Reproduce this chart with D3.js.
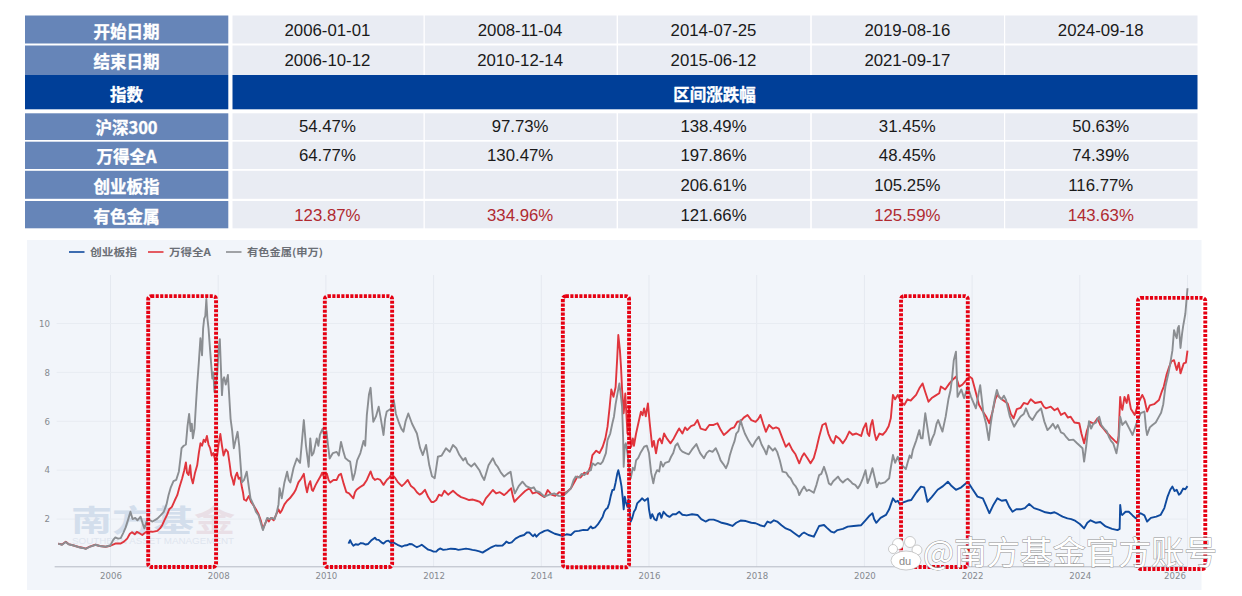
<!DOCTYPE html>
<html lang="zh">
<head>
<meta charset="utf-8">
<script src="https://cdnjs.cloudflare.com/ajax/libs/d3/7.8.5/d3.min.js"></script>
<style>
html,body{margin:0;padding:0;background:#fff;}
svg{display:block;}
</style>
</head>
<body>
<svg id="chart" width="1242" height="596"></svg>
<script>
// Table content
const startDates = ["2006-01-01","2008-11-04","2014-07-25","2019-08-16","2024-09-18"];
const endDates = ["2006-10-12","2010-12-14","2015-06-12","2021-09-17",""];
const csi300 = ["54.47%","97.73%","138.49%","31.45%","50.63%"];
const windA = ["64.77%","130.47%","197.86%","48.45%","74.39%"];
const chinext = ["","","206.61%","105.25%","116.77%"];
const metals = ["123.87%","334.96%","121.66%","125.59%","143.63%"];
const redCells = [true,true,false,true,true];

// Index levels: [years after 2000, level]
const chinextSeries = [[10.42,1.0],[10.45,1.14],[10.48,1.0],[10.51,.91],[10.55,.97],[10.6,.95],[10.65,1.02],[10.7,1.0],[10.74,.96],[10.78,.98],[10.84,1.12],[10.91,1.24],[10.94,1.16],[10.98,1.15],[11.03,1.05],[11.07,1.0],[11.12,1.1],[11.16,1.12],[11.21,1.02],[11.25,1.05],[11.33,.95],[11.41,.87],[11.46,.92],[11.5,.93],[11.55,.98],[11.6,.97],[11.65,.9],[11.69,.85],[11.74,.9],[11.78,.95],[11.84,.85],[11.9,.75],[11.95,.72],[12.0,.67],[12.05,.67],[12.08,.74],[12.12,.8],[12.18,.74],[12.25,.76],[12.32,.79],[12.4,.78],[12.46,.74],[12.52,.76],[12.6,.79],[12.66,.77],[12.72,.74],[12.78,.72],[12.85,.68],[12.91,.63],[12.96,.7],[13.0,.75],[13.05,.82],[13.1,.87],[13.15,.92],[13.19,.91],[13.28,.92],[13.32,1.0],[13.35,1.08],[13.4,1.02],[13.45,1.05],[13.52,1.2],[13.6,1.3],[13.68,1.35],[13.73,1.45],[13.78,1.45],[13.82,1.35],[13.85,1.3],[13.88,1.38],[13.91,1.28],[13.96,1.4],[14.0,1.45],[14.06,1.52],[14.12,1.55],[14.18,1.48],[14.25,1.4],[14.32,1.36],[14.4,1.31],[14.47,1.38],[14.55,1.35],[14.62,1.5],[14.7,1.52],[14.78,1.56],[14.86,1.55],[14.92,1.7],[14.95,1.62],[15.0,1.66],[15.05,1.78],[15.1,1.95],[15.14,2.1],[15.17,2.3],[15.2,2.4],[15.23,2.45],[15.26,2.64],[15.29,2.95],[15.32,3.19],[15.35,3.2],[15.38,3.5],[15.41,3.85],[15.43,4.0],[15.46,3.7],[15.49,3.33],[15.51,2.9],[15.53,2.4],[15.55,2.92],[15.57,2.7],[15.6,2.5],[15.62,2.8],[15.64,2.3],[15.66,1.9],[15.69,2.05],[15.72,2.3],[15.75,2.4],[15.78,2.64],[15.83,2.75],[15.87,2.85],[15.92,2.75],[15.98,2.85],[16.0,2.4],[16.03,2.03],[16.06,2.2],[16.1,2.0],[16.14,1.95],[16.17,2.2],[16.2,2.25],[16.23,2.05],[16.27,2.3],[16.33,2.15],[16.38,2.09],[16.44,2.2],[16.5,2.2],[16.56,2.3],[16.62,2.18],[16.7,2.15],[16.8,2.2],[16.9,2.17],[16.97,2.0],[17.05,1.9],[17.12,1.98],[17.2,1.98],[17.28,1.92],[17.35,1.85],[17.45,1.8],[17.55,1.72],[17.62,1.85],[17.7,1.94],[17.8,1.92],[17.9,1.85],[17.98,1.83],[18.06,1.75],[18.14,1.7],[18.2,1.9],[18.26,1.85],[18.32,1.95],[18.38,1.9],[18.46,1.75],[18.54,1.62],[18.62,1.55],[18.7,1.42],[18.79,1.28],[18.84,1.4],[18.88,1.45],[18.96,1.35],[19.06,1.28],[19.11,1.5],[19.16,1.72],[19.25,1.76],[19.3,1.65],[19.38,1.49],[19.44,1.45],[19.5,1.55],[19.6,1.6],[19.69,1.69],[19.8,1.72],[19.94,1.75],[20.02,1.95],[20.1,2.15],[20.15,2.24],[20.18,2.0],[20.22,1.85],[20.3,2.05],[20.4,2.17],[20.46,2.4],[20.53,2.85],[20.58,2.7],[20.62,2.75],[20.66,2.6],[20.71,2.67],[20.8,2.75],[20.87,2.78],[20.95,3.05],[21.05,3.33],[21.11,3.3],[21.17,2.71],[21.25,2.9],[21.36,3.2],[21.46,3.35],[21.55,3.53],[21.62,3.35],[21.7,3.2],[21.8,3.3],[21.92,3.53],[22.0,3.25],[22.1,2.92],[22.2,2.85],[22.26,2.55],[22.32,2.24],[22.4,2.6],[22.47,2.85],[22.55,2.75],[22.63,2.78],[22.69,2.5],[22.75,2.3],[22.82,2.4],[22.9,2.4],[22.98,2.45],[23.06,2.62],[23.15,2.45],[23.25,2.38],[23.36,2.28],[23.46,2.24],[23.53,2.28],[23.6,2.2],[23.68,2.1],[23.77,2.03],[23.84,2.0],[23.9,1.95],[24.0,1.8],[24.08,1.62],[24.14,1.85],[24.2,1.95],[24.3,1.85],[24.38,1.88],[24.48,1.7],[24.6,1.6],[24.7,1.55],[24.74,1.6],[24.75,2.58],[24.77,2.2],[24.79,2.17],[24.85,2.3],[24.91,2.3],[24.98,2.15],[25.04,2.03],[25.1,2.2],[25.13,2.24],[25.2,2.15],[25.25,1.9],[25.32,2.05],[25.42,2.1],[25.5,2.17],[25.57,2.45],[25.63,2.92],[25.68,3.2],[25.72,3.33],[25.76,3.15],[25.8,3.2],[25.84,3.0],[25.87,3.05],[25.92,3.25],[25.96,3.22],[26.0,3.35]];

const windSeries = [[5.03,1.0],[5.1,.96],[5.17,1.07],[5.22,.98],[5.3,.93],[5.41,.86],[5.48,.83],[5.54,.79],[5.6,.86],[5.72,.95],[5.8,.9],[5.91,.87],[6.0,.91],[6.09,1.0],[6.19,1.0],[6.25,1.08],[6.31,1.2],[6.36,1.4],[6.4,1.46],[6.45,1.38],[6.49,1.48],[6.54,1.42],[6.59,1.35],[6.63,1.42],[6.68,1.5],[6.78,1.48],[6.87,1.52],[6.92,1.62],[6.96,1.75],[7.0,1.95],[7.05,2.17],[7.09,2.4],[7.14,2.5],[7.19,2.75],[7.24,2.98],[7.28,3.3],[7.33,3.66],[7.37,4.0],[7.4,4.32],[7.42,3.9],[7.45,3.8],[7.48,4.2],[7.5,3.7],[7.53,3.46],[7.57,3.9],[7.61,4.2],[7.64,4.7],[7.67,5.1],[7.7,5.0],[7.73,5.25],[7.76,5.15],[7.79,5.4],[7.82,5.05],[7.85,4.9],[7.88,4.6],[7.91,4.7],[7.95,4.37],[7.98,4.6],[8.01,5.1],[8.04,5.48],[8.07,5.0],[8.1,4.6],[8.14,4.85],[8.18,4.75],[8.21,4.3],[8.24,3.8],[8.27,3.6],[8.29,3.4],[8.32,3.75],[8.35,3.9],[8.38,3.65],[8.41,3.7],[8.44,3.3],[8.46,3.1],[8.48,2.8],[8.52,2.75],[8.57,2.95],[8.61,2.7],[8.66,2.55],[8.7,2.4],[8.75,2.2],[8.79,1.95],[8.83,1.6],[8.87,1.8],[8.91,2.0],[8.94,1.9],[8.98,2.05],[9.03,1.95],[9.07,2.15],[9.12,2.4],[9.15,2.25],[9.18,2.35],[9.23,2.6],[9.28,2.75],[9.33,2.85],[9.4,3.05],[9.44,3.2],[9.49,3.5],[9.54,3.65],[9.59,3.85],[9.62,3.4],[9.65,3.1],[9.68,3.4],[9.71,3.55],[9.74,3.2],[9.76,3.15],[9.81,3.4],[9.86,3.6],[9.9,3.75],[9.93,3.9],[9.97,3.7],[10.02,3.85],[10.05,3.6],[10.08,3.5],[10.14,3.6],[10.2,3.6],[10.24,3.8],[10.28,3.85],[10.33,3.45],[10.38,3.1],[10.43,3.05],[10.47,2.95],[10.51,2.85],[10.54,3.1],[10.57,3.2],[10.63,3.3],[10.7,3.4],[10.76,3.6],[10.83,3.95],[10.87,3.7],[10.91,3.6],[10.96,3.65],[11.01,3.6],[11.07,3.4],[11.13,3.6],[11.18,3.7],[11.22,3.85],[11.28,3.7],[11.34,3.5],[11.41,3.35],[11.46,3.45],[11.52,3.6],[11.58,3.35],[11.64,3.25],[11.69,3.1],[11.74,3.0],[11.78,3.05],[11.84,3.2],[11.9,2.9],[11.96,2.7],[12.0,2.7],[12.05,2.78],[12.1,3.0],[12.15,2.95],[12.2,3.16],[12.27,3.0],[12.36,3.16],[12.44,3.0],[12.51,2.9],[12.58,2.85],[12.66,2.78],[12.73,2.8],[12.8,2.75],[12.86,2.7],[12.91,2.58],[12.97,2.85],[13.03,3.0],[13.1,3.19],[13.16,3.05],[13.23,3.1],[13.31,2.98],[13.37,3.1],[13.44,3.26],[13.47,2.95],[13.5,2.71],[13.56,2.85],[13.63,3.0],[13.7,3.15],[13.78,3.26],[13.84,3.05],[13.92,3.1],[14.0,2.98],[14.06,2.9],[14.12,3.19],[14.19,3.0],[14.26,2.95],[14.33,3.1],[14.4,3.05],[14.47,3.1],[14.55,3.26],[14.61,3.5],[14.67,3.74],[14.73,3.7],[14.8,3.9],[14.86,3.85],[14.91,4.15],[14.95,4.62],[15.02,4.8],[15.08,4.7],[15.14,4.96],[15.19,5.3],[15.23,5.78],[15.27,6.6],[15.3,7.3],[15.34,7.0],[15.38,7.4],[15.41,8.6],[15.43,9.53],[15.46,8.9],[15.48,8.23],[15.5,7.3],[15.53,6.33],[15.56,7.14],[15.58,6.3],[15.6,5.5],[15.63,6.6],[15.65,5.4],[15.67,4.96],[15.7,5.3],[15.72,5.0],[15.76,5.5],[15.8,5.9],[15.85,6.39],[15.88,6.25],[15.91,6.53],[15.94,6.2],[15.98,6.73],[16.01,6.0],[16.06,4.96],[16.09,5.2],[16.13,4.69],[16.17,5.2],[16.2,5.3],[16.24,5.1],[16.28,5.5],[16.33,5.3],[16.4,5.1],[16.46,5.3],[16.52,5.55],[16.56,5.71],[16.62,5.5],[16.67,5.75],[16.71,5.64],[16.78,5.8],[16.84,5.85],[16.9,6.05],[16.96,5.7],[17.05,5.64],[17.12,5.85],[17.2,5.85],[17.27,5.92],[17.33,5.65],[17.39,5.44],[17.45,5.55],[17.52,5.7],[17.58,5.75],[17.64,5.98],[17.7,6.0],[17.76,6.15],[17.83,6.26],[17.9,6.05],[17.98,5.98],[18.03,6.1],[18.07,6.26],[18.12,5.9],[18.17,5.57],[18.23,5.85],[18.3,5.7],[18.36,5.75],[18.41,5.7],[18.47,5.35],[18.54,4.96],[18.6,5.1],[18.66,4.83],[18.72,4.65],[18.79,4.28],[18.84,4.55],[18.88,4.69],[18.94,4.5],[19.0,4.28],[19.06,4.5],[19.11,4.9],[19.16,5.37],[19.22,5.85],[19.28,5.92],[19.33,5.5],[19.38,5.23],[19.43,5.1],[19.47,5.4],[19.53,5.3],[19.6,5.1],[19.66,5.3],[19.72,5.58],[19.78,5.45],[19.85,5.5],[19.94,5.4],[19.98,5.7],[20.03,5.92],[20.06,5.5],[20.09,5.4],[20.12,5.85],[20.15,6.05],[20.19,5.5],[20.22,5.23],[20.28,5.5],[20.34,5.45],[20.4,5.6],[20.45,5.8],[20.49,6.12],[20.53,7.08],[20.57,6.9],[20.62,7.08],[20.68,6.8],[20.74,6.67],[20.8,6.9],[20.86,6.85],[20.96,7.08],[21.02,7.35],[21.08,7.55],[21.13,7.2],[21.19,6.8],[21.25,6.95],[21.32,7.05],[21.39,7.15],[21.42,7.42],[21.5,7.3],[21.58,7.55],[21.64,7.7],[21.7,7.83],[21.76,7.42],[21.82,7.5],[21.88,7.65],[21.95,7.83],[22.0,7.75],[22.04,7.42],[22.09,7.0],[22.13,6.67],[22.2,6.4],[22.26,6.2],[22.32,5.92],[22.38,6.4],[22.43,6.9],[22.47,7.08],[22.55,6.9],[22.66,6.73],[22.72,6.3],[22.77,6.12],[22.83,6.5],[22.9,6.55],[22.96,6.75],[23.03,6.7],[23.09,6.9],[23.17,6.75],[23.28,6.8],[23.33,6.6],[23.37,6.53],[23.46,6.6],[23.53,6.45],[23.59,6.53],[23.65,6.26],[23.72,6.35],[23.78,6.15],[23.83,6.19],[23.9,5.95],[23.99,5.92],[24.03,5.5],[24.08,5.1],[24.13,5.6],[24.19,5.98],[24.26,5.9],[24.33,6.12],[24.38,5.85],[24.44,5.7],[24.51,5.51],[24.58,5.35],[24.65,5.2],[24.7,5.1],[24.72,5.4],[24.75,7.0],[24.77,6.6],[24.79,6.47],[24.83,7.0],[24.87,6.75],[24.9,7.08],[24.95,6.5],[25.02,6.26],[25.08,6.7],[25.16,7.08],[25.2,6.9],[25.25,6.4],[25.3,6.65],[25.38,6.7],[25.47,6.87],[25.52,7.2],[25.56,7.42],[25.61,7.9],[25.66,8.23],[25.7,8.45],[25.75,8.5],[25.8,8.1],[25.84,8.4],[25.87,7.96],[25.93,8.37],[25.97,8.4],[26.0,8.89]];

const metalsSeries = [[5.03,1.0],[5.1,.95],[5.17,1.06],[5.22,.97],[5.3,.93],[5.41,.85],[5.48,.82],[5.54,.78],[5.6,.85],[5.72,.95],[5.8,.9],[5.91,.87],[6.0,.93],[6.05,1.15],[6.09,1.25],[6.14,1.2],[6.19,1.22],[6.24,1.45],[6.28,1.65],[6.33,2.0],[6.37,2.3],[6.41,2.0],[6.46,2.05],[6.5,1.95],[6.56,2.1],[6.6,1.8],[6.63,1.62],[6.67,1.9],[6.71,1.98],[6.78,1.9],[6.87,2.02],[6.93,2.15],[6.99,2.3],[7.04,2.6],[7.08,3.0],[7.12,3.3],[7.17,3.55],[7.22,3.6],[7.27,3.95],[7.3,4.5],[7.32,4.9],[7.36,5.0],[7.4,5.05],[7.43,5.8],[7.46,6.3],[7.49,5.6],[7.51,5.9],[7.53,5.3],[7.56,5.7],[7.59,6.8],[7.61,7.5],[7.64,8.4],[7.67,9.4],[7.7,8.7],[7.72,9.8],[7.74,10.2],[7.76,10.3],[7.78,11.0],[7.8,10.2],[7.82,9.8],[7.85,8.9],[7.89,7.75],[7.91,8.0],[7.93,7.2],[7.96,7.6],[7.98,7.9],[8.01,9.0],[8.03,9.36],[8.05,8.2],[8.07,7.07],[8.09,7.7],[8.11,7.8],[8.14,7.5],[8.18,7.9],[8.2,7.2],[8.23,6.1],[8.26,5.6],[8.29,4.9],[8.32,5.2],[8.36,5.57],[8.39,5.0],[8.44,3.5],[8.48,3.6],[8.53,3.94],[8.57,3.3],[8.6,2.85],[8.63,2.7],[8.66,2.55],[8.7,2.3],[8.75,2.15],[8.79,1.85],[8.83,1.55],[8.87,1.8],[8.91,2.05],[8.96,2.0],[9.0,2.05],[9.05,2.0],[9.09,2.3],[9.12,2.6],[9.14,3.26],[9.18,2.85],[9.23,3.5],[9.28,3.94],[9.31,3.6],[9.34,3.5],[9.4,4.1],[9.46,4.48],[9.52,4.3],[9.56,5.3],[9.59,6.05],[9.63,5.0],[9.68,4.14],[9.71,5.3],[9.74,4.6],[9.77,4.7],[9.83,5.3],[9.86,5.0],[9.89,5.45],[9.94,5.7],[9.98,5.3],[10.01,5.6],[10.04,5.0],[10.07,4.48],[10.13,4.7],[10.2,4.75],[10.24,4.6],[10.28,5.16],[10.32,4.8],[10.36,4.5],[10.41,4.4],[10.45,4.35],[10.5,3.6],[10.54,3.9],[10.58,4.4],[10.64,4.7],[10.7,5.2],[10.73,5.0],[10.76,6.25],[10.8,7.1],[10.83,7.37],[10.86,6.5],[10.88,5.98],[10.93,6.2],[10.98,6.6],[11.02,6.1],[11.07,5.44],[11.1,6.1],[11.13,6.4],[11.2,6.5],[11.26,6.87],[11.3,6.3],[11.35,5.98],[11.4,5.7],[11.44,5.57],[11.48,6.0],[11.53,6.32],[11.6,5.9],[11.69,5.5],[11.75,4.9],[11.8,4.62],[11.86,5.03],[11.92,4.2],[11.97,3.75],[12.02,3.67],[12.08,4.55],[12.15,4.6],[12.23,4.9],[12.3,4.75],[12.36,5.03],[12.42,4.9],[12.48,4.62],[12.55,4.4],[12.59,4.5],[12.63,4.28],[12.7,4.15],[12.76,4.28],[12.85,4.0],[12.9,3.75],[12.94,3.6],[13.02,4.2],[13.1,4.49],[13.15,4.25],[13.19,4.14],[13.25,3.9],[13.31,3.74],[13.37,3.85],[13.43,3.94],[13.47,3.4],[13.51,3.05],[13.58,3.35],[13.65,3.53],[13.72,3.35],[13.81,3.26],[13.86,3.3],[13.9,3.15],[13.97,3.1],[14.06,2.92],[14.15,3.0],[14.24,3.05],[14.32,2.95],[14.4,2.94],[14.48,3.1],[14.55,3.26],[14.6,3.6],[14.64,3.74],[14.7,3.7],[14.75,3.85],[14.8,3.8],[14.86,3.94],[14.92,4.0],[14.95,4.28],[15.0,4.2],[15.05,4.3],[15.1,4.25],[15.14,4.35],[15.2,4.7],[15.23,5.23],[15.28,5.5],[15.32,5.92],[15.35,6.2],[15.38,6.7],[15.42,7.2],[15.45,7.55],[15.48,7.0],[15.5,6.6],[15.52,5.3],[15.53,4.14],[15.55,5.0],[15.57,5.1],[15.6,4.7],[15.63,4.1],[15.66,3.67],[15.7,4.1],[15.73,4.0],[15.76,4.4],[15.8,4.5],[15.84,4.7],[15.88,4.85],[15.91,4.96],[15.96,5.0],[16.0,4.7],[16.04,3.9],[16.08,3.46],[16.11,3.8],[16.15,4.0],[16.19,3.95],[16.22,4.35],[16.26,4.15],[16.3,4.3],[16.37,4.35],[16.41,4.55],[16.45,4.7],[16.49,5.0],[16.53,5.1],[16.58,4.85],[16.62,4.76],[16.68,4.7],[16.74,4.65],[16.8,4.85],[16.88,5.07],[16.92,4.85],[16.95,4.7],[17.02,4.49],[17.07,4.7],[17.12,4.8],[17.18,4.75],[17.24,4.9],[17.29,4.65],[17.33,4.4],[17.38,4.25],[17.43,4.08],[17.47,4.3],[17.5,4.6],[17.55,4.96],[17.59,5.2],[17.62,5.5],[17.66,5.6],[17.7,6.05],[17.74,5.75],[17.78,5.5],[17.85,5.2],[17.92,4.96],[17.98,5.2],[18.04,5.37],[18.09,5.05],[18.14,4.85],[18.18,4.65],[18.22,5.0],[18.26,4.9],[18.3,4.8],[18.34,4.9],[18.38,4.75],[18.43,4.4],[18.48,3.94],[18.55,3.9],[18.59,3.75],[18.63,3.67],[18.68,3.45],[18.72,3.35],[18.76,3.2],[18.79,2.98],[18.84,3.2],[18.88,3.33],[18.93,3.15],[18.97,3.2],[19.06,3.08],[19.11,3.4],[19.16,3.8],[19.2,3.85],[19.25,4.14],[19.3,3.8],[19.34,3.46],[19.38,3.4],[19.42,3.55],[19.47,3.65],[19.51,3.74],[19.55,3.6],[19.6,3.5],[19.65,3.6],[19.69,3.65],[19.74,3.55],[19.78,3.45],[19.83,3.4],[19.88,3.26],[19.92,3.4],[19.96,3.6],[20.02,4.0],[20.06,3.47],[20.1,3.7],[20.15,4.08],[20.19,3.7],[20.23,3.3],[20.27,3.5],[20.3,3.45],[20.38,3.5],[20.46,3.67],[20.49,4.1],[20.53,4.62],[20.57,4.3],[20.62,4.55],[20.66,4.3],[20.7,4.2],[20.77,4.05],[20.84,4.6],[20.87,4.5],[20.9,4.83],[20.96,5.2],[21.02,5.64],[21.05,5.3],[21.08,5.3],[21.13,6.33],[21.18,5.6],[21.22,5.03],[21.26,5.3],[21.3,5.5],[21.34,5.9],[21.37,6.05],[21.41,5.8],[21.45,5.58],[21.51,6.2],[21.56,6.9],[21.6,7.28],[21.63,7.8],[21.66,8.5],[21.7,8.85],[21.73,7.0],[21.8,7.3],[21.85,6.95],[21.92,7.4],[21.98,7.0],[22.07,6.53],[22.11,7.0],[22.15,7.48],[22.21,6.33],[22.26,5.9],[22.31,5.23],[22.34,5.8],[22.38,6.4],[22.42,6.9],[22.46,7.28],[22.5,7.0],[22.55,6.9],[22.59,7.05],[22.63,6.87],[22.7,6.2],[22.78,5.78],[22.84,6.0],[22.9,6.2],[22.96,6.3],[23.0,6.53],[23.06,6.2],[23.12,6.05],[23.2,6.35],[23.28,6.53],[23.34,6.0],[23.4,5.64],[23.45,5.75],[23.5,5.9],[23.55,5.7],[23.59,5.85],[23.65,5.55],[23.7,5.5],[23.75,5.35],[23.8,5.23],[23.88,5.25],[23.95,5.1],[24.05,4.9],[24.08,4.35],[24.12,5.0],[24.17,6.0],[24.21,5.7],[24.25,5.9],[24.3,5.95],[24.36,6.19],[24.4,5.85],[24.45,5.7],[24.5,5.6],[24.54,5.37],[24.58,5.2],[24.62,5.1],[24.68,4.69],[24.72,5.2],[24.75,6.19],[24.79,5.85],[24.85,6.0],[24.92,5.7],[24.98,5.44],[25.05,5.9],[25.13,6.33],[25.2,6.4],[25.23,5.7],[25.25,5.44],[25.3,5.75],[25.35,5.85],[25.41,5.95],[25.47,6.19],[25.51,6.35],[25.55,6.7],[25.59,7.42],[25.65,8.0],[25.69,8.5],[25.72,8.9],[25.75,9.73],[25.78,9.5],[25.8,9.4],[25.82,9.8],[25.84,9.9],[25.87,9.0],[25.9,9.6],[25.92,9.9],[25.96,10.4],[26.0,11.44]];

// Rally windows, in calendar years
const windowStart = [2006.70,2009.98,2014.40,2020.68,2025.08];
const windowEnd = [2007.96,2011.23,2015.63,2021.92,2026.33];

const yTicks = [2,4,6,8,10];
const xTicks = d3.range(2006,2027,2);

const svg = d3.select("#chart");
const cjk = "'Noto Sans CJK SC','Noto Sans',sans-serif";
const latin = "'Liberation Sans',Arial,sans-serif";

/* ---------- table ---------- */
const colLeft = [232.5,424.8,618,811.8,1005.2];
const colRight = [423.5,616.6,810.2,1004,1197.5];
const bodyRows = [
  {label:"开始日期",cells:startDates,top:15.5,bottom:43.5,ty:30,ly:31},
  {label:"结束日期",cells:endDates,top:45.5,bottom:75,ty:60,ly:61},
  {label:"沪深300",cells:csi300,top:113.3,bottom:140,ty:126,ly:126.5},
  {label:"万得全A",cells:windA,top:141.7,bottom:169,ty:155.5,ly:155.5},
  {label:"创业板指",cells:chinext,top:170.8,bottom:198.8,ty:185,ly:186},
  {label:"有色金属",cells:metals,top:201,bottom:228.3,ty:215,ly:216,red:true}
];
const table = svg.append("g");
const labelFill = "#6685b8", headFill = "#003f98", cellFill = "#e9ecf3";

function boldLabel(x0,y0,t){
  table.append("text").attr("x",x0).attr("y",y0).attr("text-anchor","middle").attr("dominant-baseline","central")
    .attr("font-family",cjk).attr("font-weight",700).attr("font-size",16.5).attr("fill","#fff")
    .attr("stroke","#fff").attr("stroke-width",.35).text(t);
}
bodyRows.forEach(r=>{
  table.append("rect").attr("x",25).attr("y",r.top).attr("width",203.3).attr("height",r.bottom-r.top).attr("fill",labelFill);
  boldLabel(126.5,r.ly,r.label);
  r.cells.forEach((t,i)=>{
    table.append("rect").attr("x",colLeft[i]).attr("y",r.top).attr("width",colRight[i]-colLeft[i]).attr("height",r.bottom-r.top).attr("fill",cellFill);
    table.append("text").attr("x",(colLeft[i]+colRight[i])/2-.6).attr("y",r.ty).attr("text-anchor","middle").attr("dominant-baseline","central")
      .attr("font-family",latin).attr("font-size",16.8)
      .attr("fill",r.red && redCells[i] ? "#b02a30" : "#1a1a1a").text(t);
  });
});
table.append("rect").attr("x",25).attr("y",75).attr("width",203.3).attr("height",34.3).attr("fill",headFill);
table.append("rect").attr("x",232.5).attr("y",75).attr("width",965).attr("height",34.3).attr("fill",headFill);
boldLabel(126.5,94,"指数");
boldLabel(714.5,94,"区间涨跌幅");

/* ---------- chart panel ---------- */
svg.append("rect").attr("x",27).attr("y",240).attr("width",1174.5).attr("height",350).attr("fill","#f2f5fa");

const x = d3.scaleLinear().domain([2006,2026]).range([110.5,1187.5]);
const y = d3.scaleLinear().domain([0,10]).range([568,323.5]);
const axisY = 566.8;

const grid = svg.append("g");
grid.selectAll("line.v").data(xTicks).join("line").attr("class","v")
  .attr("x1",d=>x(d)).attr("x2",d=>x(d)).attr("y1",275).attr("y2",axisY)
  .attr("stroke","#e5e9f0").attr("stroke-width",1);
grid.selectAll("line.h").data(yTicks).join("line").attr("class","h")
  .attr("x1",x(2005)).attr("x2",x(2026)).attr("y1",d=>y(d)).attr("y2",d=>y(d))
  .attr("stroke","#e8ecf2").attr("stroke-width",1);

/* company mark sitting beneath the lines */
const mark = svg.append("g").attr("font-family",cjk).attr("font-weight",700).attr("font-size",30);
[["南",0,"#d3deec"],["方",1,"#d3deec"],["基",2,"#d3deec"],["金",3,"#e9dfe6"]].forEach(([c,i,col])=>{
  mark.append("text").attr("transform",`translate(${71+i*41},530.5) scale(1.37,1)`).attr("fill",col).text(c);
});
svg.append("text").attr("x",72).attr("y",544).attr("font-family",latin).attr("font-size",9.5)
  .attr("textLength",162).attr("lengthAdjust","spacingAndGlyphs")
  .attr("fill","#dfe5ef").text("SOUTHERN ASSET MANAGEMENT");

/* axes */
const axisFont = "'DejaVu Sans',sans-serif";
const xAxis = svg.append("g").attr("transform",`translate(0,${axisY})`)
  .call(d3.axisBottom(x).tickValues(xTicks).tickSize(0).tickPadding(6).tickFormat(d3.format("d")));
xAxis.select(".domain").attr("d",`M${x(2005)-2},0H${x(2026)}`).attr("stroke","#b5bac3").attr("stroke-width",1);
xAxis.selectAll("text").attr("font-family",axisFont).attr("font-size",8.6).attr("fill","#85898f")
  .attr("dx",d=>d===2026?-13:0);

const yAxis = svg.append("g").attr("transform","translate(50,0)")
  .call(d3.axisLeft(y).tickValues(yTicks).tickSize(0).tickPadding(0).tickFormat(d3.format("d")));
yAxis.select(".domain").remove();
yAxis.selectAll("text").attr("font-family",axisFont).attr("font-size",8.6).attr("fill","#85898f");

/* index lines */
const line = d3.line().x(d=>x(2000+d[0])).y(d=>y(d[1]));
const seriesList = [
  {name:"创业板指",data:chinextSeries,color:"#0f4a9e"},
  {name:"万得全A",data:windSeries,color:"#e0353d"},
  {name:"有色金属(申万)",data:metalsSeries,color:"#8b8e92"}
];
svg.selectAll("path.series").data(seriesList).join("path").attr("class","series")
  .attr("d",d=>line(d.data)).attr("fill","none").attr("stroke",d=>d.color)
  .attr("stroke-width",1.9).attr("stroke-linejoin","round");

/* legend */
const legendLeft = [69,148,226], legendTextW = [47,42,76];
seriesList.forEach((s,i)=>{
  svg.append("line").attr("x1",legendLeft[i]).attr("x2",legendLeft[i]+15.5).attr("y1",252).attr("y2",252)
    .attr("stroke",s.color).attr("stroke-width",1.6);
  svg.append("text").attr("x",legendLeft[i]+21).attr("y",251).attr("dominant-baseline","central")
    .attr("font-family",cjk).attr("font-weight",700).attr("font-size",10)
    .attr("textLength",legendTextW[i]).attr("lengthAdjust","spacingAndGlyphs")
    .attr("fill","#6b6f76").text(s.name);
});

/* dotted rally boxes */
const boxTop = [11.12,11.12,11.12,11.12,11.05], boxBottom = [0.04,0.04,0.03,0.04,-0.04];
svg.selectAll("rect.window").data(windowStart).join("rect").attr("class","window")
  .attr("x",d=>x(d)).attr("width",(d,i)=>x(windowEnd[i])-x(d))
  .attr("y",(d,i)=>y(boxTop[i])).attr("height",(d,i)=>y(boxBottom[i])-y(boxTop[i]))
  .attr("rx",3).attr("fill","none").attr("stroke","#e60012").attr("stroke-width",3.9)
  .attr("stroke-dasharray","3.1 1.4");

/* account stamp at the lower right */
const stamp = svg.append("g");
[[898,544,5.5],[910,542,5.5],[917,550,5],[893,549,4.5]].forEach(([cx,cy,r])=>{
  stamp.append("circle").attr("cx",cx).attr("cy",cy).attr("r",r).attr("fill","#fff").attr("stroke","#b5b5b5").attr("stroke-width",.7);
});
stamp.append("ellipse").attr("cx",906).attr("cy",560.5).attr("rx",15).attr("ry",9.5).attr("fill","#fff").attr("stroke","#b5b5b5").attr("stroke-width",.7);
stamp.append("text").attr("x",905).attr("y",564.5).attr("text-anchor","middle").attr("font-family",latin).attr("font-size",11).attr("fill","#888").text("du");
stamp.append("text").attr("x",923).attr("y",564).attr("font-family",cjk).attr("font-size",32)
  .attr("textLength",294).attr("lengthAdjust","spacingAndGlyphs")
  .attr("fill","#fff").attr("stroke","#8f8f8f").attr("stroke-width",.9).attr("paint-order","stroke")
  .text("@南方基金官方账号");
</script>
</body>
</html>
